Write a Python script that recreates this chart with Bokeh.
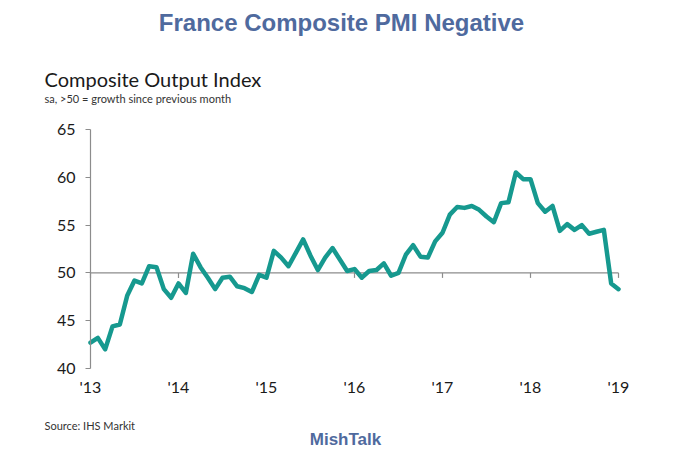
from bokeh.plotting import figure
from bokeh.models import Range1d, FixedTicker, Label
from bokeh.embed import file_html
from bokeh.resources import INLINE

# France composite output index, monthly, Jan 2013 - Jan 2019
pmi_2013 = [42.7, 43.2, 42.0, 44.4, 44.6, 47.6, 49.2, 48.9, 50.7, 50.6, 48.3, 47.4]
pmi_2014 = [48.9, 47.9, 52.0, 50.6, 49.5, 48.3, 49.5, 49.6, 48.6, 48.4, 48.0, 49.8]
pmi_2015 = [49.5, 52.3, 51.6, 50.7, 52.1, 53.5, 51.8, 50.3, 51.6, 52.6, 51.4, 50.2]
pmi_2016 = [50.4, 49.5, 50.2, 50.3, 51.0, 49.7, 50.0, 51.9, 52.9, 51.7, 51.6, 53.3]
pmi_2017 = [54.2, 56.1, 56.9, 56.8, 57.0, 56.6, 55.9, 55.3, 57.3, 57.4, 60.5, 59.8]
pmi_2018 = [59.8, 57.3, 56.4, 57.0, 54.4, 55.1, 54.5, 55.0, 54.1, 54.3, 54.5, 48.9]
pmi_2019 = [48.3]

start_year = 2013
year_ticks = [2013, 2014, 2015, 2016, 2017, 2018, 2019]
year_labels = ["'13", "'14", "'15", "'16", "'17", "'18", "'19"]
y_ticks = [40, 45, 50, 55, 60, 65]

values = pmi_2013 + pmi_2014 + pmi_2015 + pmi_2016 + pmi_2017 + pmi_2018 + pmi_2019
months = [start_year + i / 12 for i in range(len(values))]

AXIS_GREY = "#8c8c8c"
TEAL = "#16998f"
BLUE_TITLE = "#4f6a9e"
FONT = "Lato"

# The plot frame fills the whole canvas so headings can sit anywhere;
# the axes are pinned inside it with fixed_location.
W, H = 684, 463
ORIGIN_PX = (90, 368)        # pixel position of (2013, 40)
PX_PER_YEAR = 88.0
PX_PER_UNIT = 9.56

x_start = 2013 - ORIGIN_PX[0] / PX_PER_YEAR
x_end = 2013 + (W - ORIGIN_PX[0]) / PX_PER_YEAR
y_start = 40 - (H - ORIGIN_PX[1]) / PX_PER_UNIT
y_end = 40 + ORIGIN_PX[1] / PX_PER_UNIT

p = figure(
    width=W, height=H,
    x_range=Range1d(x_start, x_end), y_range=Range1d(y_start, y_end),
    output_backend="svg", toolbar_location=None, min_border=0,
)
p.min_border_left = p.min_border_right = p.min_border_top = p.min_border_bottom = 0
p.outline_line_color = None
p.grid.visible = False
p.background_fill_color = "white"
p.border_fill_color = "white"

# y axis pinned at Jan 2013, spanning 40-65
p.yaxis.fixed_location = 2013
p.yaxis.bounds = (40, 65)
p.yaxis.ticker = FixedTicker(ticks=y_ticks)
p.yaxis.axis_line_color = AXIS_GREY
p.yaxis.axis_line_width = 1.2
p.yaxis.major_tick_line_color = AXIS_GREY
p.yaxis.major_tick_line_width = 1.2
p.yaxis.major_tick_out = 5
p.yaxis.major_tick_in = 0
p.yaxis.minor_tick_line_color = None
p.yaxis.major_label_text_font = FONT
p.yaxis.major_label_text_font_size = "16px"
p.yaxis.major_label_text_color = "#1a1a1a"
p.yaxis.major_label_standoff = 10

# x axis pinned at 40: year labels only
p.xaxis.fixed_location = 40
p.xaxis.ticker = FixedTicker(ticks=year_ticks)
p.xaxis.major_label_overrides = {t: l for t, l in zip(year_ticks, year_labels)}
p.xaxis.axis_line_color = None
p.xaxis.major_tick_line_color = None
p.xaxis.major_tick_out = 0
p.xaxis.major_tick_in = 0
p.xaxis.minor_tick_line_color = None
p.xaxis.major_label_text_font = FONT
p.xaxis.major_label_text_font_size = "16px"
p.xaxis.major_label_text_color = "#1a1a1a"
p.xaxis.major_label_standoff = 8

# 50 reference line with year ticks hanging below it
p.segment(x0=[year_ticks[0]], y0=[50], x1=[year_ticks[-1]], y1=[50],
          line_color=AXIS_GREY, line_width=1.2)
p.segment(x0=year_ticks, y0=[50] * len(year_ticks), x1=year_ticks,
          y1=[50 - 5 / PX_PER_UNIT] * len(year_ticks),
          line_color=AXIS_GREY, line_width=1.2)

# the index
p.line(months, values, line_color=TEAL, line_width=4.5,
       line_join="round", line_cap="round")


def px_to_data(px, py):
    return (2013 + (px - ORIGIN_PX[0]) / PX_PER_YEAR,
            40 + (ORIGIN_PX[1] - py) / PX_PER_UNIT)


def add_text(text, px, py, size, color, font, style="normal", align="left"):
    x, y = px_to_data(px, py)
    p.add_layout(Label(x=x, y=y, text=text, text_font_size=size,
                       text_color=color, text_font=font,
                       text_font_style=style, text_align=align,
                       text_baseline="alphabetic"))


add_text("France Composite PMI Negative", 341, 22, "24px", BLUE_TITLE,
         "Liberation Sans", style="bold", align="center")
add_text("Composite Output Index", 44, 78, "20px", "#1a1a1a", FONT)
add_text("sa, >50 = growth since previous month", 44, 98, "11px", "#333333", FONT)
add_text("Source: IHS Markit", 44, 425, "11px", "#333333", FONT)
add_text("MishTalk", 345, 439, "17px", BLUE_TITLE, "Liberation Sans",
         style="bold", align="center")

open("out.html", "w").write(file_html(p, INLINE))
